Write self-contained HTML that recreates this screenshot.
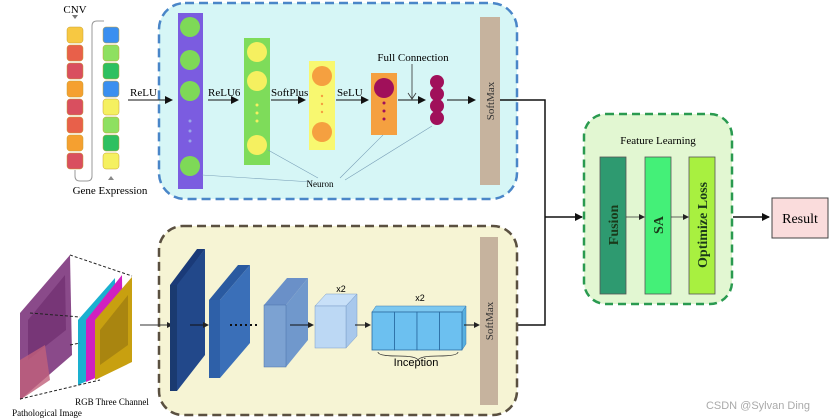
<!DOCTYPE html>
<html><head><meta charset="utf-8"><style>
html,body{margin:0;padding:0;background:#fff;}
svg{display:block;font-family:"Liberation Serif",serif;}
</style></head><body>
<svg width="830" height="420" viewBox="0 0 830 420" xmlns="http://www.w3.org/2000/svg">
<defs>
<marker id="ar" markerWidth="8" markerHeight="8" refX="7" refY="4" orient="auto" markerUnits="userSpaceOnUse"><path d="M0,0 L8,4 L0,8 z" fill="#111"/></marker>
<marker id="as" markerWidth="6" markerHeight="6" refX="5" refY="3" orient="auto" markerUnits="userSpaceOnUse"><path d="M0,0 L6,3 L0,6 z" fill="#222"/></marker>
</defs>

<rect x="159" y="3" width="358" height="196" rx="26" fill="#d6f6f6" stroke="#4a86c8" stroke-width="2.5" stroke-dasharray="9,5"/>
<text x="75" y="13" font-size="11" text-anchor="middle">CNV</text>
<path d="M72,15 l6,0 l-3,4z" fill="#777"/>
<path d="M75,170 v6 q0,5 5,5 h7 q5,0 5,-5 v-150 q0,-5 5,-5 h7" fill="none" stroke="#999" stroke-width="1"/>
<g stroke="#c8a030" stroke-width="0.5">
<rect x="67" y="27" width="16" height="16" rx="3" fill="#f7c842"/>
<rect x="67" y="45" width="16" height="16" rx="3" fill="#e8604a"/>
<rect x="67" y="63" width="16" height="16" rx="3" fill="#d94f5f"/>
<rect x="67" y="81" width="16" height="16" rx="3" fill="#f5a030"/>
<rect x="67" y="99" width="16" height="16" rx="3" fill="#d94f5f"/>
<rect x="67" y="117" width="16" height="16" rx="3" fill="#e8604a"/>
<rect x="67" y="135" width="16" height="16" rx="3" fill="#f5a030"/>
<rect x="67" y="153" width="16" height="16" rx="3" fill="#d94f5f"/>
<rect x="103" y="27" width="16" height="16" rx="3" fill="#3a8ff0"/>
<rect x="103" y="45" width="16" height="16" rx="3" fill="#8ee060"/>
<rect x="103" y="63" width="16" height="16" rx="3" fill="#2ec060"/>
<rect x="103" y="81" width="16" height="16" rx="3" fill="#3a8ff0"/>
<rect x="103" y="99" width="16" height="16" rx="3" fill="#f5f060"/>
<rect x="103" y="117" width="16" height="16" rx="3" fill="#8ee060"/>
<rect x="103" y="135" width="16" height="16" rx="3" fill="#2ec060"/>
<rect x="103" y="153" width="16" height="16" rx="3" fill="#f5f060"/>
</g>
<path d="M111,176 l-3,4 h6z" fill="#888"/>
<text x="110" y="194" font-size="11" text-anchor="middle">Gene Expression</text>

<text x="130" y="96" font-size="11">ReLU</text>
<line x1="128" y1="100" x2="172" y2="100" stroke="#111" marker-end="url(#ar)"/>
<rect x="178" y="13" width="25" height="176" fill="#7b5ce0"/>
<g fill="#7ed957"><circle cx="190" cy="27" r="10"/><circle cx="190" cy="60" r="10"/><circle cx="190" cy="91" r="10"/><circle cx="190" cy="166" r="10"/></g>
<g fill="#9aa8e8"><circle cx="190" cy="121" r="1.5"/><circle cx="190" cy="131" r="1.5"/><circle cx="190" cy="141" r="1.5"/></g>
<text x="208" y="96" font-size="11">ReLU6</text>
<line x1="208" y1="100" x2="238" y2="100" stroke="#111" marker-end="url(#ar)"/>
<rect x="244" y="38" width="26" height="127" fill="#7edc5a"/>
<g fill="#f5f060"><circle cx="257" cy="52" r="10"/><circle cx="257" cy="81" r="10"/><circle cx="257" cy="145" r="10"/></g>
<g fill="#f5f060"><circle cx="257" cy="105" r="1.5"/><circle cx="257" cy="113" r="1.5"/><circle cx="257" cy="121" r="1.5"/></g>
<text x="271" y="96" font-size="11">SoftPlus</text>
<line x1="271" y1="100" x2="305" y2="100" stroke="#111" marker-end="url(#ar)"/>
<rect x="309" y="61" width="26" height="89" fill="#f8f870"/>
<g fill="#f5a040"><circle cx="322" cy="76" r="10"/><circle cx="322" cy="132" r="10"/></g>
<g fill="#f5a040"><circle cx="322" cy="96" r="1.2"/><circle cx="322" cy="104" r="1.2"/><circle cx="322" cy="112" r="1.2"/></g>
<text x="337" y="96" font-size="11">SeLU</text>
<line x1="336" y1="100" x2="368" y2="100" stroke="#111" marker-end="url(#ar)"/>
<rect x="371" y="73" width="26" height="62" fill="#f5a040"/>
<circle cx="384" cy="88" r="10" fill="#a0105a"/>
<g fill="#a0105a"><circle cx="384" cy="103" r="1.5"/><circle cx="384" cy="111" r="1.5"/><circle cx="384" cy="119" r="1.5"/></g>
<text x="413" y="61" font-size="11" text-anchor="middle">Full Connection</text>
<line x1="412" y1="64" x2="412" y2="98" stroke="#333" stroke-width="0.8"/>
<path d="M408,93 l4,6 l4,-6" fill="none" stroke="#333" stroke-width="0.8"/>
<line x1="398" y1="100" x2="425" y2="100" stroke="#111" marker-end="url(#ar)"/>
<g fill="#a0105a"><ellipse cx="437" cy="82" rx="7" ry="7"/><ellipse cx="437" cy="94" rx="7" ry="7"/><ellipse cx="437" cy="106" rx="7" ry="7"/><ellipse cx="437" cy="118" rx="7" ry="7"/></g>
<line x1="447" y1="100" x2="475" y2="100" stroke="#111" marker-end="url(#ar)"/>
<rect x="480" y="17" width="20" height="168" fill="#c6b39e"/>
<text transform="translate(494,101) rotate(-90)" font-size="11" text-anchor="middle" fill="#333">SoftMax</text>
<g stroke="#7aa0b8" stroke-width="0.6" fill="none">
<line x1="202" y1="175" x2="312" y2="182"/><line x1="268" y1="150" x2="318" y2="178"/>
<line x1="383" y1="135" x2="340" y2="178"/><line x1="432" y1="126" x2="345" y2="180"/>
</g>
<text x="320" y="187" font-size="9" text-anchor="middle">Neuron</text>

<polyline points="500,100 545,100 545,325 500,325" fill="none" stroke="#111" stroke-width="1.5"/>
<line x1="545" y1="217" x2="582" y2="217" stroke="#111" stroke-width="1.5" marker-end="url(#ar)"/>

<rect x="159" y="226" width="358" height="189" rx="24" fill="#f6f4d4" stroke="#5a5040" stroke-width="2.5" stroke-dasharray="9,5"/>
<polygon points="20,313 70,255 72,355 20,400" fill="#8a4a8a"/>
<polygon points="28,320 65,275 66,330 28,360" fill="#6a2a6a" opacity="0.6"/>
<polygon points="20,360 45,345 50,380 20,400" fill="#c0607a" opacity="0.8"/>
<polygon points="78,320 115,278 116,368 78,385" fill="#1ab0d0"/>
<polygon points="86,320 122,275 123,366 86,382" fill="#d020c0"/>
<polygon points="95,320 132,277 132,362 95,380" fill="#c8a010"/>
<polygon points="100,330 128,295 128,345 100,365" fill="#8a6a10" opacity="0.5"/>
<g stroke="#222" stroke-width="1" stroke-dasharray="3,2" fill="none">
<line x1="70" y1="255" x2="132" y2="276"/><line x1="20" y1="399" x2="100" y2="380"/>
<line x1="30" y1="313" x2="80" y2="317"/><line x1="70" y1="345" x2="80" y2="343"/>
</g>
<text x="47" y="416" font-size="9" text-anchor="middle">Pathological Image</text>
<text x="112" y="405" font-size="9" text-anchor="middle">RGB Three Channel</text>
<line x1="140" y1="325" x2="172" y2="325" stroke="#333" marker-end="url(#as)"/>
<polygon points="170,285 197,249 205,249 178,285" fill="#1a3a78"/>
<polygon points="177,285 205,249 205,355 177,391" fill="#22488a"/>
<rect x="170" y="285" width="7" height="106" fill="#1a3a70"/>
<line x1="190" y1="325" x2="208" y2="325" stroke="#111" marker-end="url(#as)"/>
<polygon points="209,300 238,265 250,265 220,300" fill="#2a5aa0"/>
<polygon points="220,300 250,265 250,343 220,378" fill="#3a6fb8"/>
<rect x="209" y="300" width="11" height="78" fill="#2e60a8"/>
<line x1="230" y1="325" x2="260" y2="325" stroke="#111" stroke-width="2" stroke-dasharray="2,3"/>
<polygon points="264,305 287,278 308,278 286,305" fill="#6a90c8"/>
<polygon points="286,305 308,278 308,340 286,367" fill="#7098cc"/>
<rect x="264" y="305" width="22" height="62" fill="#7ca2d2" stroke="#4a70a8" stroke-width="0.5"/>
<line x1="290" y1="325" x2="313" y2="325" stroke="#111" marker-end="url(#as)"/>
<polygon points="315,306 326,294 357,294 346,306" fill="#c8e0f8" stroke="#7a9cc8" stroke-width="0.5"/>
<polygon points="346,306 357,294 357,336 346,348" fill="#a8c8ec" stroke="#7a9cc8" stroke-width="0.5"/>
<rect x="315" y="306" width="31" height="42" fill="#bcd8f4" stroke="#7a9cc8" stroke-width="0.5"/>
<text x="341" y="292" font-size="9" text-anchor="middle" font-family="Liberation Sans,sans-serif">x2</text>
<line x1="355" y1="325" x2="370" y2="325" stroke="#111" marker-end="url(#as)"/>
<polygon points="372,312 376,306 466,306 462,312" fill="#7cc8f0" stroke="#3a7ab0" stroke-width="0.5"/>
<polygon points="462,312 466,306 466,344 462,350" fill="#58b0e0" stroke="#3a7ab0" stroke-width="0.5"/>
<g fill="#6cc0f0" stroke="#2a6aa0" stroke-width="0.8">
<rect x="372" y="312" width="22.5" height="38"/><rect x="394.5" y="312" width="22.5" height="38"/><rect x="417" y="312" width="22.5" height="38"/><rect x="439.5" y="312" width="22.5" height="38"/>
</g>
<text x="420" y="301" font-size="9" text-anchor="middle" font-family="Liberation Sans,sans-serif">x2</text>
<path d="M378,352 q0,4 20,4 q18,0 20,4 q2,-4 20,-4 q20,0 20,-4" fill="none" stroke="#333" stroke-width="0.8"/>
<text x="416" y="366" font-size="11" text-anchor="middle" font-family="Liberation Sans,sans-serif">Inception</text>
<line x1="464" y1="325" x2="479" y2="325" stroke="#111" marker-end="url(#as)"/>
<rect x="480" y="237" width="18" height="168" fill="#c6b39e"/>
<text transform="translate(493,321) rotate(-90)" font-size="11" text-anchor="middle" fill="#333">SoftMax</text>

<rect x="584" y="114" width="148" height="190" rx="22" fill="#e2f7d2" stroke="#2a9a50" stroke-width="2.5" stroke-dasharray="8,5"/>
<text x="658" y="144" font-size="11" text-anchor="middle">Feature Learning</text>
<rect x="600" y="157" width="26" height="137" fill="#2e9a70" stroke="#555" stroke-width="0.8"/>
<rect x="645" y="157" width="26" height="137" fill="#44f078" stroke="#555" stroke-width="0.8"/>
<rect x="689" y="157" width="26" height="137" fill="#a8f040" stroke="#555" stroke-width="0.8"/>
<g font-weight="bold" font-size="14" fill="#1a3a1a" text-anchor="middle">
<text transform="translate(618,225) rotate(-90)">Fusion</text>
<text transform="translate(663,225) rotate(-90)">SA</text>
<text transform="translate(707,225) rotate(-90)">Optimize Loss</text>
</g>
<line x1="626" y1="217" x2="644" y2="217" stroke="#333" stroke-width="0.8" marker-end="url(#as)"/>
<line x1="671" y1="217" x2="688" y2="217" stroke="#333" stroke-width="0.8" marker-end="url(#as)"/>
<line x1="733" y1="217" x2="769" y2="217" stroke="#111" stroke-width="1.5" marker-end="url(#ar)"/>
<rect x="772" y="198" width="56" height="40" fill="#fadcdc" stroke="#444" stroke-width="1"/>
<text x="800" y="223" font-size="14" text-anchor="middle">Result</text>

<text x="758" y="409" font-size="11" text-anchor="middle" fill="#aaa" font-family="Liberation Sans,sans-serif">CSDN @Sylvan Ding</text>
</svg>
</body></html>
